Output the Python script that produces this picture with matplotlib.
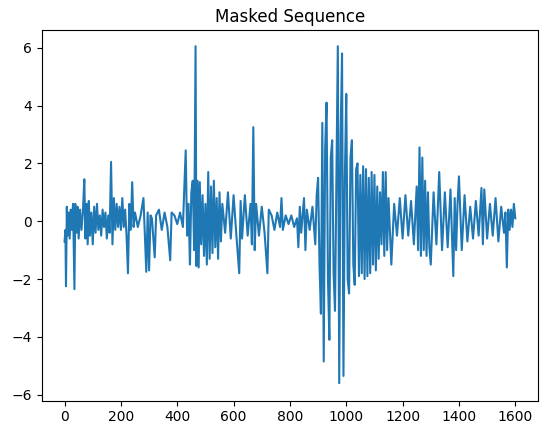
import matplotlib
matplotlib.use("Agg")
import matplotlib.pyplot as plt

# sample index and value of the masked sequence
idx = [0, 3, 5, 8, 10, 14, 18, 22, 26, 30, 35, 38, 42, 46, 50, 55, 60, 65, 70, 74,
       78, 82, 86, 90, 95, 100, 105, 110, 115, 120, 125, 130, 135, 140, 145, 150, 155, 160, 165, 170,
       175, 180, 185, 190, 195, 200, 205, 210, 215, 220, 225, 230, 235, 240, 245, 250, 260, 270, 280, 285,
       290, 295, 300, 305, 310, 320, 325, 335, 345, 355, 365, 375, 380, 390, 400, 410, 420, 430, 435, 440,
       445, 450, 455, 460, 465, 468, 472, 476, 480, 485, 490, 495, 500, 505, 510, 515, 520, 525, 530, 535,
       540, 545, 550, 555, 560, 570, 580, 590, 600, 610, 620, 625, 630, 640, 650, 660, 665, 670, 675, 680,
       690, 700, 710, 720, 725, 735, 745, 755, 765, 770, 775, 785, 795, 805, 815, 825, 830, 835, 840, 850,
       855, 860, 870, 880, 890, 895, 900, 905, 910, 915, 920, 925, 930, 935, 940, 945, 950, 955, 960, 965,
       970, 975, 980, 985, 990, 995, 1000, 1005, 1010, 1015, 1020, 1025, 1030, 1035, 1040, 1045, 1050, 1055, 1060, 1065,
       1070, 1075, 1080, 1085, 1090, 1095, 1100, 1105, 1110, 1115, 1120, 1125, 1130, 1135, 1140, 1145, 1150, 1160, 1170, 1180,
       1190, 1200, 1210, 1220, 1230, 1240, 1250, 1255, 1260, 1265, 1270, 1275, 1280, 1285, 1290, 1295, 1300, 1310, 1320, 1330,
       1340, 1350, 1360, 1370, 1380, 1385, 1390, 1395, 1400, 1410, 1420, 1430, 1440, 1450, 1460, 1470, 1480, 1485, 1490, 1500,
       1510, 1520, 1530, 1540, 1550, 1560, 1565, 1570, 1575, 1580, 1585, 1590, 1595, 1600]
val = [-0.7, -0.3, -2.25, 0.5, -0.5, 0.3, -0.6, 0.4, -0.3, 0.6, -2.35, 0.6, -0.4, 0.5, -0.6, 0.4, -0.3, 0.3, 1.45, -0.6,
       0.6, -0.8, 0.7, -0.5, 0.3, -0.8, 0.5, -0.4, 0.6, -0.3, 0.2, -0.5, 0.4, -0.2, 0.3, -0.6, 0.2, -0.4, 2.05, -0.8,
       0.8, -0.3, 0.6, -0.2, 0.5, -0.3, 0.8, -0.2, 0.4, -0.5, -1.8, 0.6, -0.3, 1.35, -0.2, 0.3, -0.2, 0.2, 0.8, -0.5,
       -1.75, 0.3, -1.7, 0.2, 0.1, -1.25, 0.2, 0.4, -0.3, 0.3, -0.2, -1.35, 0.3, 0.2, -0.1, 0.3, -0.2, 2.45, -0.5, 0.6,
       -1.5, 1.0, 1.4, -1.0, 6.05, -1.55, 1.4, -1.6, 1.35, -0.8, 0.9, -1.2, 0.6, -1.5, 1.7, -1.3, 1.2, -1.1, 1.4, -0.9,
       0.8, -1.3, 1.0, -0.7, 0.6, -0.4, 1.0, -0.6, 0.9, -0.5, -1.8, 0.7, -0.6, 0.9, -0.5, 0.6, -0.8, 3.25, -1.0, 0.6,
       -0.5, 0.5, -0.4, -1.8, 0.4, 0.2, -0.3, 0.3, -0.2, 0.8, -0.3, 0.2, -0.1, 0.2, -0.2, 0.1, -0.9, 0.5, -0.4, 0.8,
       -1.0, 0.4, -0.3, 0.5, -0.8, 0.9, 1.5, -1.5, -3.2, 3.4, -4.85, 2.5, 4.1, -2.0, -4.1, 2.2, 2.8, -1.8, -3.1, 1.5,
       6.05, -5.6, 3.0, 5.8, -5.35, 1.5, 4.4, -2.0, -2.5, 2.2, 2.8, -1.5, -2.2, 1.8, 2.0, -1.9, 1.6, -1.8, 1.9, -2.0,
       1.8, -1.9, 1.5, -1.8, 1.7, -1.5, 1.6, -1.7, 1.2, -1.3, 1.0, -0.8, 1.7, -1.2, 1.7, -1.0, 0.8, -1.5, 0.6, -0.5,
       0.8, -0.6, 0.9, -0.5, 0.7, -0.8, 1.2, -1.0, 2.55, -1.2, 2.2, -1.0, 1.4, -1.2, 1.0, -0.9, -1.5, 1.0, -0.8, 1.7,
       -1.0, 1.0, -0.9, 1.1, -1.9, 0.8, -1.0, 0.6, 1.55, -1.0, 0.9, -0.7, 0.5, -0.6, 0.7, -0.5, 1.15, -0.8, 1.1, -0.6,
       0.6, -0.5, 0.8, -0.7, 0.5, -0.4, 0.3, -1.6, 0.4, -0.3, 0.4, -0.2, 0.6, 0.1]

fig, ax = plt.subplots(figsize=(5.46, 4.33), dpi=100)
fig.subplots_adjust(left=0.077, right=0.985, top=0.93, bottom=0.075)
ax.plot(idx, val, color="#1f77b4")
ax.set_title("Masked Sequence")
ax.set_xlim(-80, 1680)
ax.set_ylim(-6.2, 6.6)
fig.savefig("out.png")
